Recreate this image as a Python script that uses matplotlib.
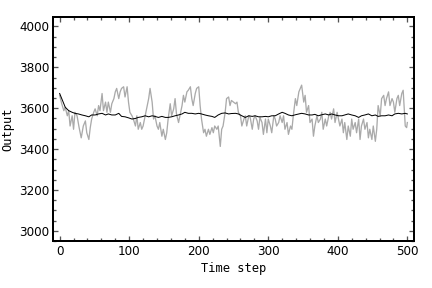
import matplotlib
matplotlib.use("Agg")
import matplotlib.pyplot as plt
from matplotlib.ticker import MultipleLocator

# Raw (noisy) output series
raw_steps = [0, 3, 6, 8, 11, 13, 15, 18, 20, 22, 25, 28, 31, 34, 37, 39, 42, 44, 46, 49,
             51, 54, 56, 58, 61, 63, 66, 68, 70, 73, 75, 78, 80, 82, 85, 87, 89, 92, 94, 97,
             99, 101, 104, 106, 109, 111, 113, 116, 118, 120, 123, 125, 128, 130, 133, 135,
             137, 140, 142, 144, 147, 149, 152, 154, 156, 159, 161, 164, 166, 168, 171, 173,
             176, 178, 180, 183, 185, 188, 190, 192, 195, 197, 200, 202, 204, 207, 209, 211,
             214, 216, 219, 221, 223, 226, 228, 231, 233, 235, 238, 240, 243, 245, 247,
             250, 253, 255, 257, 260, 262, 265, 267, 269, 272, 274, 277, 279, 281, 284, 286,
             288, 291, 293, 296, 298, 300, 303, 305, 308, 310, 312, 315, 317, 320, 322, 324,
             327, 329, 332, 334, 336, 339, 341, 344, 346, 348, 351, 353, 355, 358, 360, 363,
             365, 367, 370, 372, 375, 377, 379, 382, 384, 387, 389, 391, 394, 396, 399, 401,
             403, 406, 408, 410, 413, 415, 418, 420, 422, 425, 427, 430, 432, 434, 437, 439,
             442, 444, 446, 449, 451, 454, 456, 458, 461, 463, 466, 468, 470, 473, 475, 478,
             480, 482, 485, 487, 489, 492, 494, 497, 499, 500]
raw_output = [3663, 3622, 3588, 3605, 3563, 3588, 3513, 3563, 3497, 3580, 3563, 3505, 3455,
              3513, 3538, 3480, 3447, 3505, 3547, 3580, 3597, 3563, 3613, 3588, 3672, 3588,
              3630, 3580, 3630, 3580, 3622, 3647, 3680, 3697, 3647, 3680, 3697, 3705, 3655,
              3705, 3630, 3580, 3563, 3547, 3513, 3563, 3497, 3530, 3497, 3513, 3563, 3597,
              3647, 3697, 3630, 3547, 3563, 3513, 3497, 3530, 3463, 3497, 3447, 3480, 3547,
              3622, 3563, 3597, 3647, 3572, 3530, 3563, 3613, 3663, 3630, 3680, 3688, 3705,
              3647, 3613, 3672, 3697, 3705, 3613, 3547, 3480, 3497, 3463, 3497, 3472, 3505,
              3480, 3513, 3497, 3513, 3413, 3497, 3513, 3580, 3647, 3655, 3613, 3638,
              3630, 3622, 3630, 3580, 3563, 3513, 3547, 3563, 3513, 3563, 3555, 3497, 3547,
              3563, 3538, 3497, 3555, 3530, 3472, 3547, 3480, 3547, 3513, 3480, 3563, 3547,
              3513, 3530, 3563, 3530, 3563, 3497, 3530, 3472, 3513, 3497, 3563, 3647, 3613,
              3680, 3697, 3713, 3630, 3663, 3580, 3613, 3530, 3547, 3463, 3513, 3563, 3530,
              3547, 3580, 3497, 3547, 3513, 3563, 3580, 3547, 3597, 3530, 3580, 3547, 3513,
              3547, 3480, 3530, 3447, 3513, 3463, 3547, 3497, 3530, 3480, 3547, 3447, 3513,
              3547, 3497, 3530, 3455, 3497, 3447, 3513, 3438, 3497, 3613, 3563, 3647, 3663,
              3613, 3647, 3680, 3613, 3647, 3630, 3580, 3647, 3663, 3613, 3672, 3688, 3513,
              3505, 3530]

# Running-average series
avg_steps = [0, 3, 6, 8, 13, 18, 22, 27, 32, 37, 42, 46, 51, 56, 61, 66, 70, 75, 80, 85,
             89, 94, 99, 104, 109, 113, 118, 123, 128, 133, 137, 142, 147, 152, 156, 161,
             166, 171, 176, 180, 185, 190, 195, 200, 204, 209, 214, 219, 223, 228, 233, 238,
             243, 247, 253, 257, 262, 267, 272, 277, 281, 286, 291, 296, 300, 305, 310, 315,
             320, 324, 329, 334, 339, 344, 348, 353, 358, 363, 367, 372, 377, 382, 387, 391,
             396, 401, 406, 410, 415, 420, 425, 430, 434, 439, 444, 449, 454, 458, 463, 468,
             473, 478, 482, 487, 492, 497, 500]
avg_output = [3672, 3647, 3622, 3605, 3588, 3580, 3575, 3572, 3567, 3563, 3558, 3567, 3567,
              3572, 3575, 3567, 3572, 3567, 3567, 3575, 3560, 3558, 3553, 3547, 3550, 3555,
              3558, 3563, 3558, 3563, 3560, 3555, 3560, 3555, 3555, 3558, 3563, 3567, 3572,
              3580, 3575, 3575, 3572, 3575, 3572, 3567, 3563, 3560, 3555, 3567, 3575, 3577,
              3572, 3574, 3575, 3572, 3563, 3555, 3563, 3560, 3563, 3558, 3558, 3560, 3558,
              3563, 3563, 3572, 3580, 3575, 3567, 3563, 3568, 3572, 3575, 3572, 3567, 3567,
              3570, 3563, 3568, 3572, 3567, 3572, 3567, 3563, 3563, 3567, 3572, 3567, 3563,
              3555, 3563, 3567, 3572, 3563, 3567, 3560, 3563, 3563, 3567, 3563, 3572, 3575,
              3572, 3575, 3572]

fig = plt.figure(figsize=(6, 4), dpi=72)
ax = fig.add_axes([0.122, 0.163, 0.837, 0.777])

ax.plot(raw_steps, raw_output, color="#aaaaaa", lw=1.3)
ax.plot(avg_steps, avg_output, color="black", lw=1.0)

ax.set_xlim(-10, 510)
ax.set_ylim(2950, 4045)
ax.xaxis.set_major_locator(MultipleLocator(100))
ax.xaxis.set_minor_locator(MultipleLocator(20))
ax.yaxis.set_major_locator(MultipleLocator(200))
ax.yaxis.set_minor_locator(MultipleLocator(50))
ax.tick_params(which="both", direction="in", top=True, right=True, color="#555555",
               labelsize=12, width=1.3)
ax.tick_params(which="major", length=5)
ax.tick_params(which="minor", length=3)
for s in ax.spines.values():
    s.set_linewidth(2)

ax.set_xlabel("Time step", family="DejaVu Sans Mono", fontsize=12)
ax.set_ylabel("Output", family="DejaVu Sans Mono", fontsize=12)

fig.savefig("out.png", dpi=72)
